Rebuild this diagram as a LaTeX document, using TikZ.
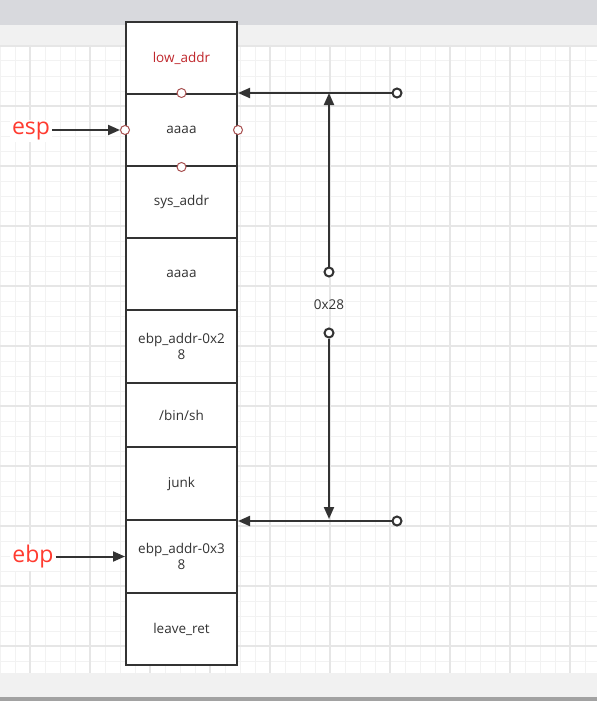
\documentclass[tikz,border=0pt]{standalone}
\usepackage{fontspec}
\setmainfont{Open Sans}
\usetikzlibrary{arrows.meta}
\definecolor{ink}{HTML}{333333}
\definecolor{gminor}{HTML}{F2F2F2}
\definecolor{gmajor}{HTML}{E6E6E6}
\definecolor{bandtop}{HTML}{D8D9DD}
\definecolor{bandlight}{HTML}{F1F1F1}
\definecolor{bandbottom}{HTML}{A2A2A2}
\definecolor{regred}{HTML}{FF3B30}
\definecolor{darkred}{HTML}{C0282D}
\definecolor{cpred}{HTML}{A85050}
\tikzset{
  cell/.style={draw=ink, line width=2pt, fill=white, minimum width=111pt,
    anchor=north, align=center, font=\fontsize{13.5}{16}\selectfont, text=ink, inner sep=0pt},
  cpoint/.style={circle, draw=cpred, line width=1pt, fill=white, minimum size=9pt, inner sep=0pt},
  endpt/.style={circle, draw=ink, line width=2pt, fill=white, minimum size=9pt, inner sep=0pt},
  arr/.style={draw=ink, line width=2pt, -{Triangle[length=12pt,width=10pt]}},
  reglabel/.style={fill=white, text=regred, font=\fontsize{23}{25}\selectfont, inner sep=2pt},
  plain/.style={text=ink, font=\fontsize{13.5}{16}\selectfont, inner sep=1pt}
}
\begin{document}
\begin{tikzpicture}[x=1pt,y=-1pt]
\useasboundingbox (0,0) rectangle (597,701);
% background bands
\fill[bandtop] (0,0) rectangle (597,25);
\fill[bandlight] (0,25) rectangle (597,45);
\fill[white] (0,45) rectangle (597,673);
\fill[bandlight] (0,673) rectangle (597,697);
\fill[bandbottom] (0,697) rectangle (597,701);
% grid
\foreach \x in {0,15,...,597} \draw[gminor, line width=1pt] (\x,45) -- (\x,673);
\foreach \y in {46,61,...,672} \draw[gminor, line width=1pt] (0,\y) -- (597,\y);
\foreach \x in {30,90,...,597} \draw[gmajor, line width=1.2pt] (\x,45) -- (\x,673);
\foreach \y in {46,106,...,672} \draw[gmajor, line width=1.2pt] (0,\y) -- (597,\y);
% stack cells
\node[cell, minimum height=72pt, text=darkred] (b1) at (181.5,21) {low\_addr};
\node[cell, minimum height=72pt] (b2) at (181.5,93) {aaaa};
\node[cell, minimum height=72pt] (b3) at (181.5,165) {sys\_addr};
\node[cell, minimum height=72pt] (b4) at (181.5,237) {aaaa};
\node[cell, minimum height=73pt] (b5) at (181.5,309) {ebp\_addr-0x2\\8};
\node[cell, minimum height=64pt] (b6) at (181.5,382) {/bin/sh};
\node[cell, minimum height=73pt] (b7) at (181.5,446) {junk};
\node[cell, minimum height=73pt] (b8) at (181.5,519) {ebp\_addr-0x3\\8};
\node[cell, minimum height=72pt] (b9) at (181.5,592) {leave\_ret};
% connection points on b2
\node[cpoint] (c2n) at (b2.north) {};
\node[cpoint] (c2w) at (b2.west) {};
\node[cpoint] (c2e) at (b2.east) {};
\node[cpoint] (c2s) at (b2.south) {};
% register labels
\node[reglabel] (esp) at (31,131) {esp};
\node[reglabel] (ebp) at (33,557) {ebp};
\draw[arr] (esp.east |- c2w) -- (c2w);
\draw[arr] (ebp.east |- b8.west) -- (b8.west);
% 0x28 dimension
\node[endpt] (p1) at (397,93) {};
\node[endpt] (p2) at (329,272) {};
\node[plain] (dim) at (329,305) {0x28};
\node[endpt] (p3) at (329,333) {};
\node[endpt] (p4) at (397,521) {};
\coordinate (top) at (329,93);
\coordinate (bot) at (329,519);
\draw[arr] (p1) -- (b2.north east);
\draw[arr] (p2) -- (top);
\draw[arr] (p3) -- (bot);
\draw[arr] (p4) -- (b8.north east |- p4);
\end{tikzpicture}
\end{document}
